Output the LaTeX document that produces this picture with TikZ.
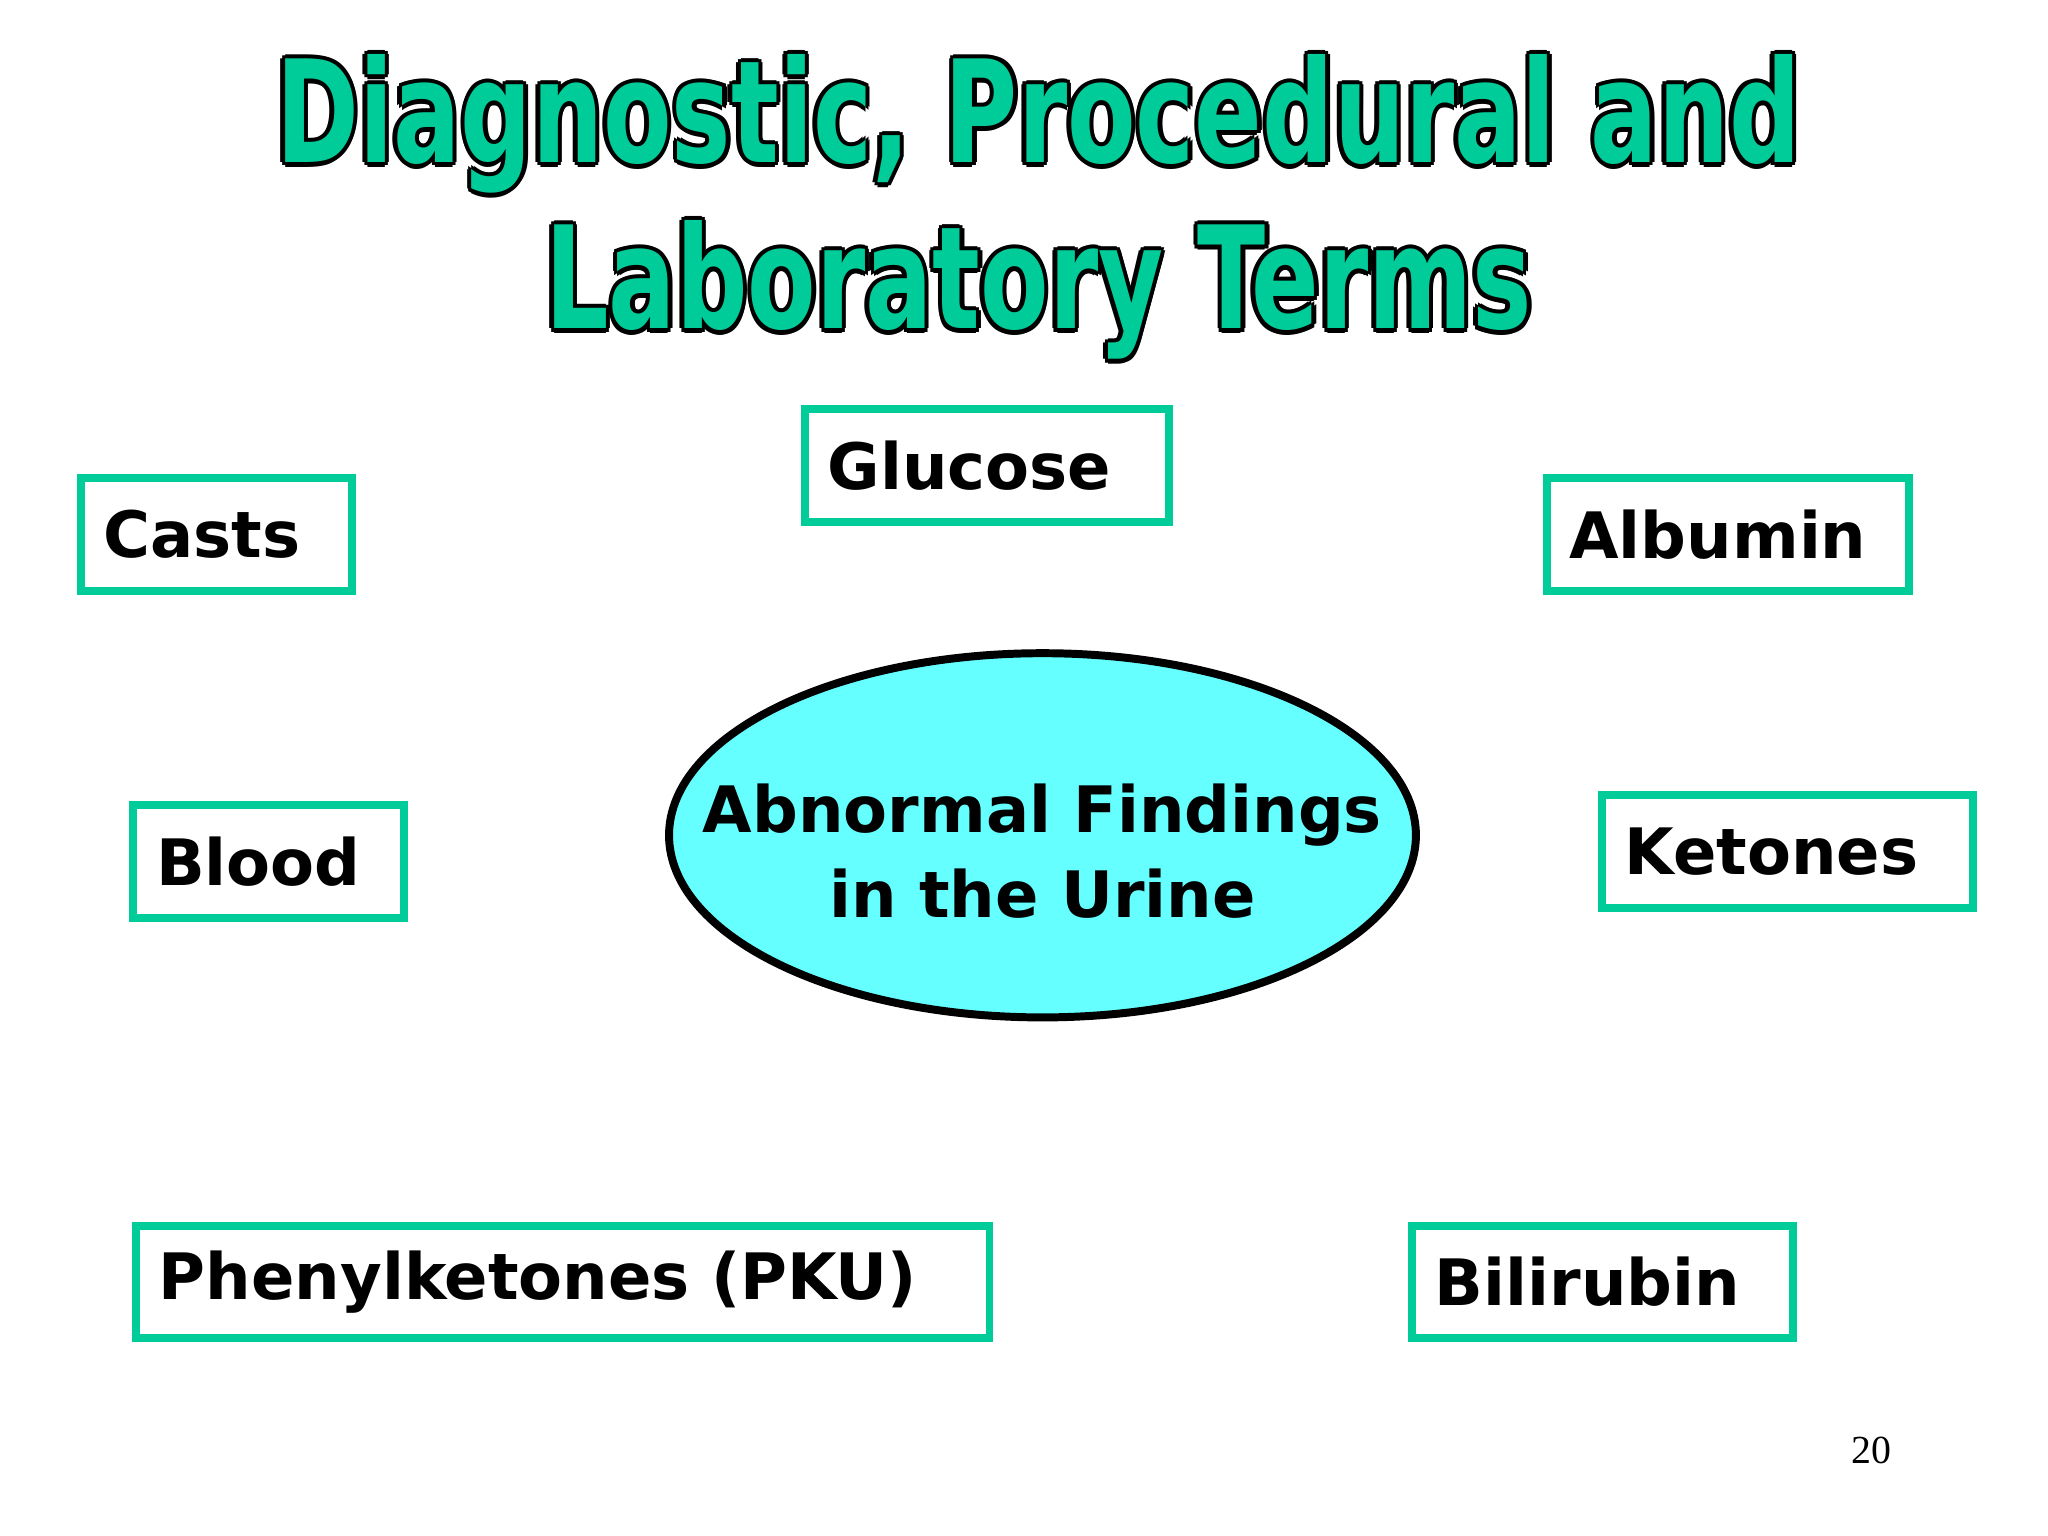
\documentclass[tikz,border=0pt]{standalone}
\usepackage{fontspec}
\usetikzlibrary{shapes.geometric}
\setmainfont{DejaVu Sans}
\newfontfamily\ttl{DejaVu Sans Condensed Bold}
\newfontfamily\bxf{DejaVu Sans Bold}
\newfontfamily\ser{Liberation Serif}
\definecolor{tgreen}{HTML}{00CC99}
\definecolor{ecyan}{HTML}{66FFFF}
\tikzset{
  termbox/.style={draw=tgreen,line width=2.8pt,minimum height=39.7pt,inner xsep=8pt,align=left,font=\bxf\fontsize{22.5}{26}\selectfont},
  ttlline/.style={font=\ttl\fontsize{50}{56}\selectfont,inner sep=0pt}
}
\newcommand\ttltext[3]{%
  \foreach \dx/\dy in {1.6/0,-1.6/0,0/1.6,0/-1.6,1.1/1.1,-1.1/1.1,1.1/-1.1,-1.1/-1.1}{
    \node[ttlline,text=black,xshift=\dx pt,yshift=\dy pt] at (#1) {\scalebox{0.78}[1]{#2}};}
  \node[ttlline,text=tgreen] (#3) at (#1) {\scalebox{0.78}[1]{#2}};}
\begin{document}
\begin{tikzpicture}[x=0.4639pt,y=-0.4639pt]
\useasboundingbox (0,0) rectangle (1552,1164);
\ttltext{787,94}{Diagnostic, Procedural and}{t1}
\ttltext{787,220}{Laboratory Terms}{t2}
\draw[black,fill=ecyan,line width=2.8pt] (790,633) ellipse [x radius=283, y radius=138];
\node[inner sep=0pt,align=center,font=\bxf\fontsize{22.5}{30}\selectfont] (c) at (790,645) {Abnormal Findings\\in the Urine};
\node[termbox,text width=112pt] (glu) at (748,353) {Glucose};
\node[termbox,text width=79.5pt] (cas) at (164,405) {Casts};
\node[termbox,text width=111.5pt] (alb) at (1309.5,405) {Albumin};
\node[termbox,text width=79pt] (blo) at (203.5,653) {Blood};
\node[termbox,text width=114.3pt] (ket) at (1354.5,645) {Ketones};
\node[termbox,text width=284pt] (pku) at (426.5,971.5) {Phenylketones (PKU)};
\node[termbox,text width=118pt] (bil) at (1214.5,971.5) {Bilirubin};
\node[font=\ser\fontsize{14}{16}\selectfont] (pg) at (1418,1099) {20};
\end{tikzpicture}
\end{document}
